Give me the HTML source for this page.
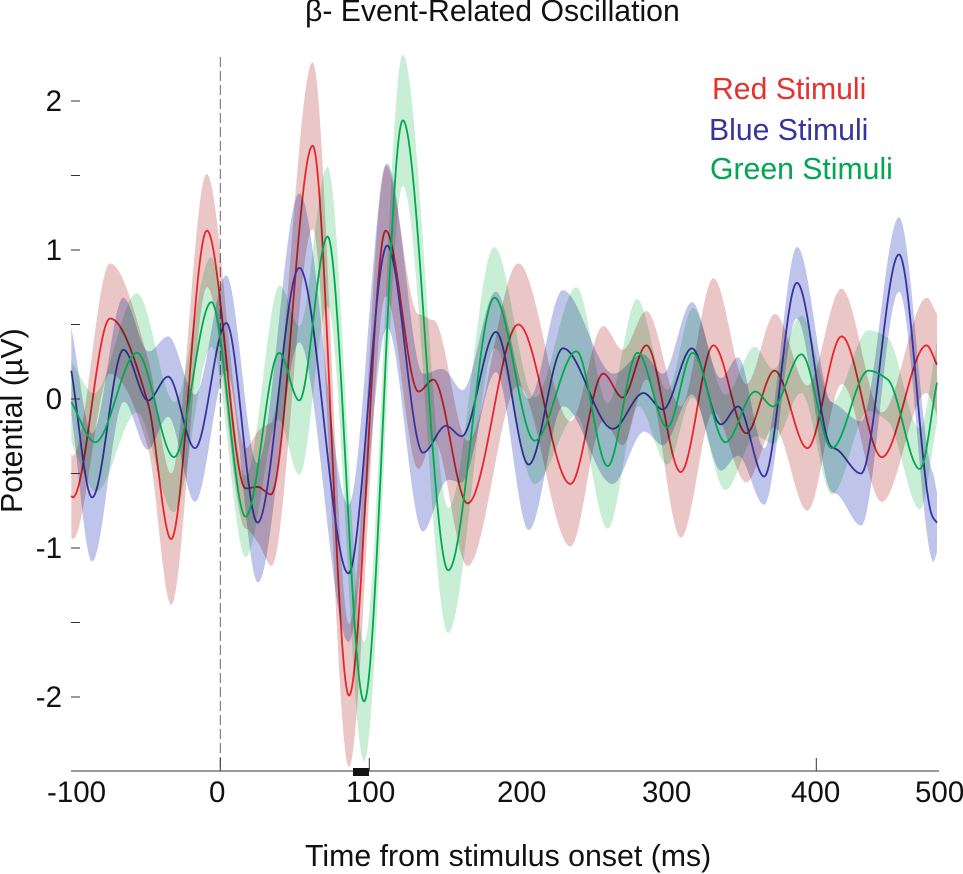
<!DOCTYPE html>
<html>
<head>
<meta charset="utf-8">
<title>β- Event-Related Oscillation</title>
<style>
html,body{margin:0;padding:0;background:#fff;}
body{width:963px;height:874px;overflow:hidden;}
svg{display:block;isolation:isolate;}
text{font-family:"Liberation Sans",Arial,sans-serif;fill:#111;}
.band{mix-blend-mode:multiply;stroke:none;}
.line{fill:none;stroke-width:1.8;stroke-linejoin:round;}
</style>
</head>
<body>
<svg id="chart" width="963" height="874" viewBox="0 0 963 874" xmlns="http://www.w3.org/2000/svg">
  <text x="305" y="21" font-size="30.2">β- Event-Related Oscillation</text>
  <g id="plot"></g>
  <g id="axes">
    <line x1="71" y1="771" x2="939" y2="771" stroke="#333" stroke-width="1"/>
    <rect x="353" y="768" width="16" height="8" fill="#111"/>
    <g font-size="29.5">
      <text x="47" y="802">-100</text>
      <text x="209" y="802">0</text>
      <text x="346" y="802">100</text>
      <text x="497" y="802">200</text>
      <text x="642" y="802">300</text>
      <text x="791" y="802">400</text>
      <text x="915" y="802">500</text>
    </g>
    <text x="305" y="866" font-size="30.3">Time from stimulus onset (ms)</text>
    <text transform="translate(22,513) rotate(-90)" font-size="30.4">Potential (µV)</text>
  </g>
  <g id="legend" font-size="30.2">
    <text x="712" y="99" style="fill:#e5322d">Red Stimuli</text>
    <text x="709" y="140" style="fill:#37349b">Blue Stimuli</text>
    <text x="710" y="179" style="fill:#00a651">Green Stimuli</text>
  </g>
</svg>
<script>
const redTimes = [-100,-99,-74,-48.5,-33,-9,17,25,34,62,86.4,111,133,143,166,200,235,257,270,286,309,331,353,372,394,417,444,474,481];
const redMean = [-0.65,-0.66,0.54,-0.03,-0.94,1.13,-0.60,-0.59,-0.64,1.70,-1.99,1.13,0.05,0.13,-0.70,0.50,-0.57,0.17,0.01,0.36,-0.49,0.36,-0.23,0.19,-0.33,0.42,-0.39,0.36,0.23];
const redSem = [0.28,0.28,0.37,0.30,0.44,0.38,0.27,0.37,0.48,0.56,0.48,0.44,0.52,0.40,0.42,0.41,0.42,0.32,0.32,0.23,0.44,0.45,0.33,0.38,0.42,0.32,0.30,0.32,0.34];

const blueTimes = [-100,-86,-65,-48.5,-35,-17,4,25,53,86,112,136,151.5,162,185,207,230,263.5,284,297,316.5,336,347.5,365,387,410,414,430,455.5,478,481];
const blueMean = [0.19,-0.66,0.33,-0.01,0.15,-0.33,0.51,-0.83,0.88,-1.17,1.03,-0.36,-0.18,-0.25,0.45,-0.44,0.34,-0.20,0.04,-0.07,0.34,-0.17,-0.05,-0.52,0.78,-0.32,-0.34,-0.50,0.97,-0.79,-0.83];
const blueSem = [0.29,0.43,0.35,0.33,0.27,0.36,0.32,0.40,0.50,0.46,0.55,0.53,0.37,0.31,0.27,0.44,0.39,0.37,0.26,0.24,0.31,0.31,0.33,0.19,0.24,0.30,0.30,0.35,0.25,0.30,0.20];

const greenTimes = [-100,-84,-56,-31,-6,17,39.5,53,72,96.5,122.5,153,184,211,239,260,280,300,317,339,359,371,390,410.5,435,448,469.5,481];
const greenMean = [-0.02,-0.29,0.31,-0.39,0.65,-0.79,0.31,-0.01,1.09,-2.03,1.87,-1.15,0.68,-0.28,0.32,-0.45,0.31,-0.19,0.31,-0.29,0.05,-0.05,0.30,-0.33,0.19,0.13,-0.47,0.11];
const greenSem = [0.27,0.33,0.40,0.37,0.30,0.27,0.45,0.50,0.47,0.40,0.44,0.42,0.34,0.29,0.43,0.42,0.36,0.25,0.30,0.32,0.30,0.25,0.26,0.31,0.27,0.28,0.27,0.27];

const yTickValues = [2,1.5,1,0.5,0,-0.5,-1,-1.5,-2];
const yTickLabels = ["2","","1","","0","","-1","","-2"];
const xTickValues = [0,100,400];

const SVGNS = 'http://www.w3.org/2000/svg';
function xScale(t){ return 220.3 + t * 1.49; }
function yScale(v){ return 399 - v * 149; }

/* Monotone cubic (Fritsch-Carlson) through the read-off knots */
function spline(xs, ys){
  const n = xs.length, d = [], m = new Array(n).fill(0);
  for(let i = 0; i < n - 1; i++){ d.push((ys[i+1] - ys[i]) / (xs[i+1] - xs[i])); }
  m[0] = d[0]; m[n-1] = d[n-2];
  for(let i = 1; i < n - 1; i++){
    if(d[i-1] * d[i] <= 0){ m[i] = 0; }
    else {
      const w1 = 2*(xs[i+1]-xs[i]) + (xs[i]-xs[i-1]);
      const w2 = (xs[i+1]-xs[i]) + 2*(xs[i]-xs[i-1]);
      m[i] = (w1 + w2) / (w1 / d[i-1] + w2 / d[i]);
    }
  }
  return function(x){
    let i = 0;
    while(i < n - 2 && x > xs[i+1]){ i++; }
    const h = xs[i+1] - xs[i], s = (x - xs[i]) / h;
    const s2 = s*s, s3 = s2*s;
    return (2*s3-3*s2+1)*ys[i] + (s3-2*s2+s)*h*m[i] + (-2*s3+3*s2)*ys[i+1] + (s3-s2)*h*m[i+1];
  };
}

function sampleTimes(times){
  const out = [], a = times[0], b = times[times.length-1];
  for(let t = a; t < b; t += 0.5){ out.push(t); }
  out.push(b);
  return out;
}

function toPath(points){
  return 'M' + points.map(p => p[0].toFixed(2) + ' ' + p[1].toFixed(2)).join('L');
}

const plot = document.getElementById('plot');
const axes = document.getElementById('axes');

function drawSeries(name, times, mean, sem, bandColor, lineColor){
  const fm = spline(times, mean), fs = spline(times, sem);
  const ts = sampleTimes(times);
  const upper = ts.map(t => [xScale(t), yScale(fm(t) + fs(t))]);
  const lower = ts.map(t => [xScale(t), yScale(fm(t) - fs(t))]).reverse();
  const band = document.createElementNS(SVGNS, 'path');
  
  
  band.setAttribute('class', 'band');
  band.setAttribute('fill', bandColor);
  band.setAttribute('d', toPath(upper.concat(lower)) + 'Z');
  plot.appendChild(band);
  const line = document.createElementNS(SVGNS, 'path');
  
  
  line.setAttribute('class', 'line');
  line.setAttribute('stroke', lineColor);
  line.setAttribute('d', toPath(ts.map(t => [xScale(t), yScale(fm(t))])));
  plot.appendChild(line);
}

const onsetLine = document.createElementNS(SVGNS, 'line');


onsetLine.setAttribute('x1', xScale(0));
onsetLine.setAttribute('x2', xScale(0));
onsetLine.setAttribute('y1', 57);
onsetLine.setAttribute('y2', 771);
onsetLine.setAttribute('stroke', '#666');
onsetLine.setAttribute('stroke-width', 1);
onsetLine.setAttribute('stroke-dasharray', '10 4');
plot.appendChild(onsetLine);

drawSeries('red', redTimes, redMean, redSem, '#ebc6c6', '#e8262a');
drawSeries('blue', blueTimes, blueMean, blueSem, '#bfc5ea', '#38339f');
drawSeries('green', greenTimes, greenMean, greenSem, '#c9eed6', '#00a94f');

yTickValues.forEach(function(v, i){
  const tick = document.createElementNS(SVGNS, 'line');
  
  
  tick.setAttribute('x1', 71);
  tick.setAttribute('x2', 80);
  tick.setAttribute('y1', yScale(v));
  tick.setAttribute('y2', yScale(v));
  tick.setAttribute('stroke', '#333');
  tick.setAttribute('stroke-width', 1);
  axes.appendChild(tick);
  if(yTickLabels[i]){
    const label = document.createElementNS(SVGNS, 'text');
    
    
    label.setAttribute('x', 62);
    label.setAttribute('y', yScale(v) + 10);
    label.setAttribute('text-anchor', 'end');
    label.setAttribute('font-size', 29.5);
    label.textContent = yTickLabels[i];
    axes.appendChild(label);
  }
});

xTickValues.forEach(function(t){
  const tick = document.createElementNS(SVGNS, 'line');
  
  
  tick.setAttribute('x1', xScale(t));
  tick.setAttribute('x2', xScale(t));
  tick.setAttribute('y1', 758);
  tick.setAttribute('y2', 771);
  tick.setAttribute('stroke', '#333');
  tick.setAttribute('stroke-width', 1);
  axes.appendChild(tick);
});
</script>
</body>
</html>
